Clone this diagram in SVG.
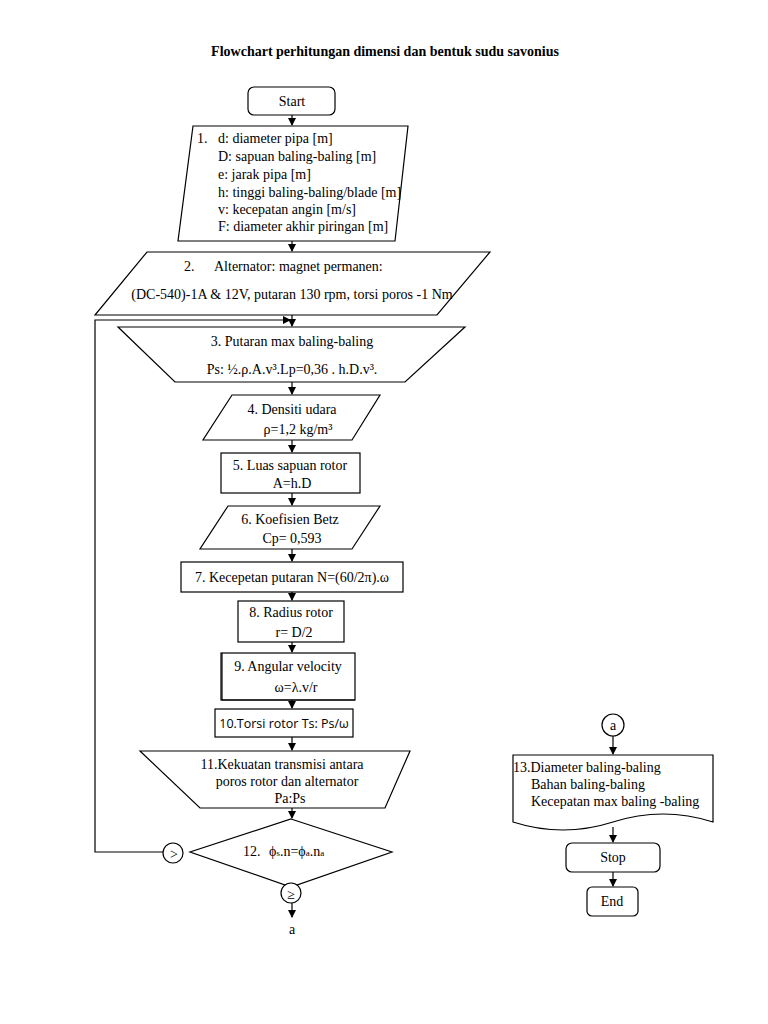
<svg xmlns="http://www.w3.org/2000/svg" width="768" height="1024" viewBox="0 0 768 1024">
<style>
.s{fill:#fff;stroke:#000;stroke-width:1.2}
.t{font-family:"Liberation Serif",serif;font-size:14px;fill:#000}
.c{text-anchor:middle}
.l{fill:none;stroke:#000;stroke-width:1.2}
</style>
<defs><marker id="a" markerWidth="8" markerHeight="8" refX="7" refY="4" orient="auto" markerUnits="userSpaceOnUse"><path d="M0,0 L8,4 L0,8z"/></marker></defs>
<rect width="768" height="1024" fill="#fff"/>
<text class="t c" x="385" y="56" font-weight="bold" font-size="15">Flowchart perhitungan dimensi dan bentuk sudu savonius</text>
<g id="connectors">
<line class="l" x1="292" y1="115" x2="292" y2="125" marker-end="url(#a)"/>
<line class="l" x1="292" y1="241" x2="292" y2="251" marker-end="url(#a)"/>
<line class="l" x1="292" y1="315" x2="292" y2="326" marker-end="url(#a)"/>
<polyline class="l" points="163,852 95,852 95,320 290,320" marker-end="url(#a)"/>
<line class="l" x1="292" y1="382" x2="292" y2="394" marker-end="url(#a)"/>
<line class="l" x1="292" y1="440" x2="292" y2="452" marker-end="url(#a)"/>
<line class="l" x1="292" y1="493" x2="292" y2="505" marker-end="url(#a)"/>
<line class="l" x1="292" y1="549" x2="292" y2="561" marker-end="url(#a)"/>
<line class="l" x1="292" y1="592" x2="292" y2="600" marker-end="url(#a)"/>
<line class="l" x1="292" y1="642" x2="292" y2="652" marker-end="url(#a)"/>
<line class="l" x1="292" y1="700" x2="292" y2="708" marker-end="url(#a)"/>
<line class="l" x1="292" y1="737" x2="292" y2="750" marker-end="url(#a)"/>
<line class="l" x1="292" y1="808" x2="292" y2="818" marker-end="url(#a)"/>
<line class="l" x1="292" y1="903" x2="292" y2="917" marker-end="url(#a)"/>
<line class="l" x1="613" y1="736" x2="613" y2="754" marker-end="url(#a)"/>
<line class="l" x1="613" y1="827" x2="613" y2="842" marker-end="url(#a)"/>
<line class="l" x1="613" y1="872" x2="613" y2="886" marker-end="url(#a)"/>
</g>
<g id="start"><rect class="s" x="248" y="87" width="87" height="28" rx="6"/><text class="t c" x="292" y="106">Start</text></g>
<g id="n1"><polygon class="s" points="193,126 408,126 395,241 178,241"/>
<text class="t" x="197" y="143">1.</text>
<text class="t" x="218" y="143">d: diameter pipa [m]</text>
<text class="t" x="218" y="161">D: sapuan baling-baling [m]</text>
<text class="t" x="218" y="179">e: jarak pipa [m]</text>
<text class="t" x="218" y="197">h: tinggi baling-baling/blade [m]</text>
<text class="t" x="218" y="214">v: kecepatan angin [m/s]</text>
<text class="t" x="218" y="231">F: diameter akhir piringan [m]</text></g>
<g id="n2"><polygon class="s" points="147,252 490,252 437,315 95,315"/>
<text class="t" x="184" y="271">2.</text><text class="t" x="214" y="271">Alternator: magnet permanen:</text>
<text class="t c" x="292" y="299">(DC-540)-1A &amp; 12V, putaran 130 rpm, torsi poros -1 Nm</text></g>
<g id="n3"><polygon class="s" points="118,327 465,327 405,382 175,382"/>
<text class="t c" x="292" y="346">3.  Putaran max baling-baling</text>
<text class="t c" x="292" y="374">Ps: ½.ρ.A.v³.Lp=0,36 . h.D.v³.</text></g>
<g id="n4"><polygon class="s" points="232,395 380,395 352,440 203,440"/>
<text class="t c" x="292" y="414">4. Densiti udara</text><text class="t c" x="298" y="434">ρ=1,2 kg/m³</text></g>
<g id="n5"><rect class="s" x="221" y="453" width="139" height="40"/>
<text class="t c" x="290" y="470">5. Luas sapuan rotor</text><text class="t c" x="292" y="488">A=h.D</text></g>
<g id="n6"><polygon class="s" points="228,506 380,506 352,549 200,549"/>
<text class="t c" x="290" y="524">6. Koefisien Betz</text><text class="t c" x="292" y="543">Cp= 0,593</text></g>
<g id="n7"><rect class="s" x="181" y="562" width="222" height="30"/>
<text class="t c" x="292" y="582">7. Kecepetan putaran N=(60/2π).ω</text></g>
<g id="n8"><rect class="s" x="238" y="601" width="106" height="41"/>
<text class="t c" x="291" y="617">8. Radius rotor</text><text class="t c" x="294" y="637">r= D/2</text></g>
<g id="n9"><rect class="s" x="221" y="653" width="134" height="47"/><path d="M222,653 V700 H355" class="l" stroke-width="2.2"/>
<text class="t c" x="288" y="671">9.  Angular velocity</text><text class="t c" x="296" y="692">ω=λ.v/r</text></g>
<g id="n10"><rect class="s" x="215" y="709" width="138" height="28"/>
<text x="284" y="728" text-anchor="middle" font-family="Open Sans,sans-serif" font-size="12.5">10.Torsi rotor Ts: Ps/ω</text></g>
<g id="n11"><polygon class="s" points="140,751 410,751 385,808 200,808"/>
<text class="t c" x="282" y="769">11.Kekuatan transmisi antara</text>
<text class="t c" x="287" y="786">poros rotor dan alternator</text>
<text class="t c" x="290" y="803">Pa:Ps</text></g>
<g id="n12"><polygon class="s" points="291,819 392,852 291,887 190,852"/>
<text class="t" x="243" y="856">12.</text><text class="t" x="269" y="856" font-size="12">ϕ<tspan font-size="9">s</tspan>.n=ϕ<tspan font-size="9">a</tspan>.n<tspan font-size="9">a</tspan></text></g>
<g id="gt"><circle class="s" cx="173" cy="853" r="10"/><text class="t c" x="174" y="859" font-size="17">&gt;</text></g>
<g id="ge"><circle class="s" cx="291" cy="893" r="10"/><text class="t c" x="291" y="899" font-size="17">≥</text></g>
<text class="t c" x="292" y="934" font-size="15">a</text>
<g id="ca"><circle class="s" cx="613" cy="725" r="11"/><text class="t c" x="613" y="730" font-size="15">a</text></g>
<g id="n13"><path class="s" d="M513,755 H713 V822 Q663,806 613,822 Q563,838 513,822 Z"/>
<text class="t" x="513" y="772">13.Diameter baling-baling</text>
<text class="t" x="531" y="789">Bahan baling-baling</text>
<text class="t" x="531" y="806">Kecepatan max baling -baling</text></g>
<g id="stop"><rect class="s" x="566" y="843" width="94" height="29" rx="6"/><text class="t c" x="613" y="862">Stop</text></g>
<g id="end"><rect class="s" x="587" y="887" width="51" height="29" rx="5"/><text class="t c" x="612" y="906">End</text></g>
</svg>
